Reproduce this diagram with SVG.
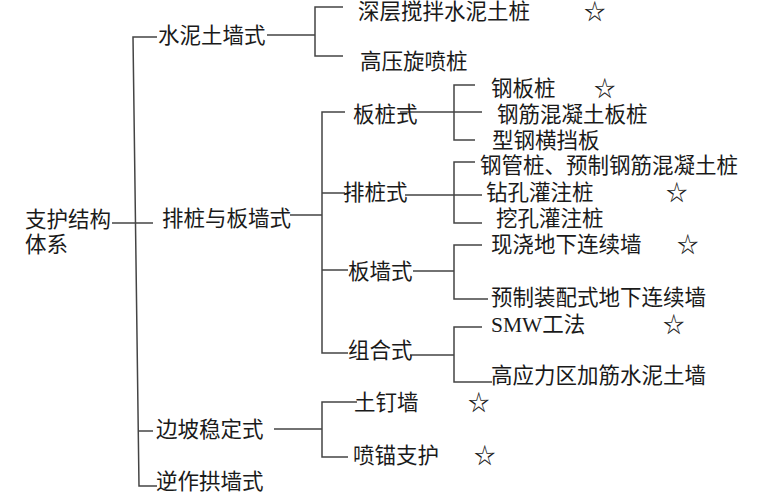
<svg xmlns="http://www.w3.org/2000/svg" width="760" height="497" viewBox="0 0 760 497">
<style>
text{font-family:"Liberation Serif","Noto Sans CJK SC",serif;font-size:21.5px;fill:#1a1a1a;dominant-baseline:central}
.c path{fill:none;stroke:#444;stroke-width:1.5}
</style>
<rect width="760" height="497" fill="#fff"/>
<g class="c" id="connectors">
<path d="M112,223H153"/>
<path d="M157,37H133L139,486H157"/>
<path d="M139,431H153"/>
<path d="M267,35H315M343,7H315V56H343"/>
<path d="M290,215H322M345,112H322V353H348M322,193H345M322,270H348"/>
<path d="M400,112H482M475,85H454V140H475"/>
<path d="M405,195H482M475,162H454V223H482"/>
<path d="M413,271H454M482,245H454V299H488"/>
<path d="M410,355H454M482,327H454V382H492"/>
<path d="M274,429H322M357,402H322V457H348"/>
</g>
<g id="root"><text x="25" y="220">支护结构</text><text x="25" y="245">体系</text></g>
<g id="n1"><text x="158" y="36">水泥土墙式</text></g>
<g id="n11"><text x="358" y="12">深层搅拌水泥土桩</text><text x="584" y="12">☆</text></g>
<g id="n12"><text x="360" y="62">高压旋喷桩</text></g>
<g id="n2"><text x="162" y="219">排桩与板墙式</text></g>
<g id="n21"><text x="353" y="115">板桩式</text></g>
<g id="n211"><text x="491" y="89">钢板桩</text><text x="594" y="89">☆</text></g>
<g id="n212"><text x="497" y="115">钢筋混凝土板桩</text></g>
<g id="n213"><text x="492" y="141">型钢横挡板</text></g>
<g id="n22"><text x="343" y="193">排桩式</text></g>
<g id="n221"><text x="480" y="166">钢管桩、预制钢筋混凝土桩</text></g>
<g id="n222"><text x="486" y="193">钻孔灌注桩</text><text x="666" y="193">☆</text></g>
<g id="n223"><text x="496" y="219">挖孔灌注桩</text></g>
<g id="n23"><text x="348" y="272">板墙式</text></g>
<g id="n231"><text x="491" y="245">现浇地下连续墙</text><text x="677" y="245">☆</text></g>
<g id="n232"><text x="491" y="298">预制装配式地下连续墙</text></g>
<g id="n24"><text x="348" y="351">组合式</text></g>
<g id="n241"><text x="491" y="325">SMW工法</text><text x="663" y="325">☆</text></g>
<g id="n242"><text x="491" y="376">高应力区加筋水泥土墙</text></g>
<g id="n3"><text x="156" y="430">边坡稳定式</text></g>
<g id="n31"><text x="354" y="403">土钉墙</text><text x="468" y="403">☆</text></g>
<g id="n32"><text x="353" y="456">喷锚支护</text><text x="474" y="456">☆</text></g>
<g id="n4"><text x="156" y="482">逆作拱墙式</text></g>
</svg>
